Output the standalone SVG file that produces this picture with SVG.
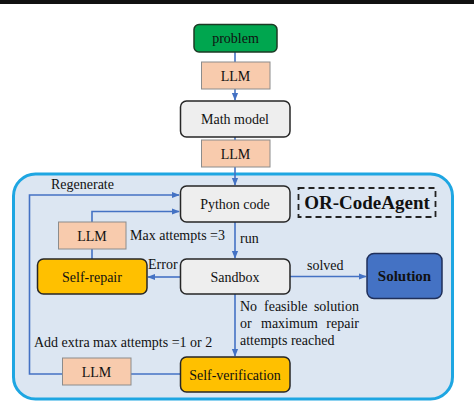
<svg xmlns="http://www.w3.org/2000/svg" width="474" height="401" viewBox="0 0 474 401" font-family="'Liberation Serif', serif">
<defs>
<style>
text{font-size:14px;fill:#111}
.c{text-anchor:middle}
.b{font-weight:bold}
.llm{fill:#f8cbad;stroke:#8c8c8c;stroke-width:1}
.gray{fill:#eeeeee;stroke:#262626;stroke-width:1.5}
.orange{fill:#ffc000;stroke:#262626;stroke-width:1.5}
.ln{fill:none;stroke:#4472c4;stroke-width:1.6}
</style>
<marker id="ar" viewBox="0 0 10 10" refX="9" refY="5" markerWidth="5" markerHeight="5" orient="auto">
<path d="M0,1 L10,5 L0,9 z" fill="#4472c4"/>
</marker>
</defs>
<rect x="0" y="0" width="474" height="401" fill="#ffffff"/>
<rect x="0" y="0" width="474" height="4" fill="#111111"/>
<g id="container">
<rect x="13.5" y="174" width="439" height="225" rx="22" fill="#dce6f2" stroke="#1ea6e2" stroke-width="3"/>
</g>
<g id="connectors">
<line class="ln" x1="235" y1="52" x2="235" y2="62"/>
<line class="ln" x1="235" y1="89" x2="235" y2="100" marker-end="url(#ar)"/>
<line class="ln" x1="235" y1="137" x2="235" y2="140"/>
<line class="ln" x1="235" y1="167" x2="235" y2="185" marker-end="url(#ar)"/>
<line class="ln" x1="235" y1="222" x2="235" y2="258" marker-end="url(#ar)"/>
<line class="ln" x1="235" y1="294" x2="235" y2="356" marker-end="url(#ar)"/>
<line class="ln" x1="290" y1="276.5" x2="366" y2="276.5" marker-end="url(#ar)"/>
<line class="ln" x1="180" y1="277" x2="148" y2="277" marker-end="url(#ar)"/>
<polyline class="ln" points="92,259 92,211.5 179,211.5" marker-end="url(#ar)"/>
<polyline class="ln" points="62,374 29.5,374 29.5,195 179,195" marker-end="url(#ar)"/>
<line class="ln" x1="131" y1="374" x2="180" y2="374"/>
</g>
<g id="problem">
<rect x="194" y="24.5" width="83" height="27.5" rx="5" fill="#00a64f" stroke="#1c3a24" stroke-width="1.5"/>
<text class="c" x="235.5" y="43">problem</text>
</g>
<g id="llm1">
<rect class="llm" x="201.5" y="62" width="68.5" height="27"/>
<text class="c" x="235.5" y="80.5">LLM</text>
</g>
<g id="math-model">
<rect class="gray" x="180.5" y="101" width="109.5" height="36" rx="6"/>
<text class="c" x="235" y="124">Math model</text>
</g>
<g id="llm2">
<rect class="llm" x="201.5" y="140" width="68.5" height="27"/>
<text class="c" x="235.5" y="158.5">LLM</text>
</g>
<g id="python-code">
<rect class="gray" x="180.5" y="186" width="109.5" height="36" rx="6" stroke-width="1"/>
<text class="c" x="235" y="209">Python code</text>
</g>
<g id="or-codeagent">
<rect x="298.5" y="188" width="137" height="29" fill="none" stroke="#222" stroke-width="1.8" stroke-dasharray="6,4"/>
<text class="c b" x="367" y="209" style="font-size:19px">OR-CodeAgent</text>
</g>
<g id="llm3">
<rect class="llm" x="58.5" y="222" width="67.5" height="27"/>
<text class="c" x="92" y="240.5">LLM</text>
</g>
<text x="130" y="240">Max attempts =3</text>
<text x="240" y="243">run</text>
<g id="self-repair">
<rect class="orange" x="37.5" y="259" width="109.5" height="35" rx="6"/>
<text class="c" x="92" y="282">Self-repair</text>
</g>
<text x="148" y="269">Error</text>
<g id="sandbox">
<rect class="gray" x="180.5" y="259" width="109.5" height="35" rx="6"/>
<text class="c" x="235" y="282">Sandbox</text>
</g>
<text x="307" y="270">solved</text>
<g id="solution">
<rect x="367" y="253.5" width="75" height="45" rx="7" fill="#4472c4" stroke="#1f2f5a" stroke-width="1.5"/>
<text class="c b" x="404.5" y="281" style="font-size:15px">Solution</text>
</g>
<text x="240" y="311">No</text>
<text x="264" y="311">feasible</text>
<text x="359" y="311" text-anchor="end">solution</text>
<text x="240" y="328">or</text>
<text x="261" y="328">maximum</text>
<text x="359" y="328" text-anchor="end">repair</text>
<text x="240" y="345">attempts reached</text>
<text x="34" y="347">Add extra max attempts =1 or 2</text>
<text x="51" y="189">Regenerate</text>
<g id="llm4">
<rect class="llm" x="62.5" y="358" width="68.5" height="27"/>
<text class="c" x="96.5" y="376.5">LLM</text>
</g>
<g id="self-verification">
<rect class="orange" x="180.5" y="357" width="109.5" height="35" rx="6"/>
<text class="c" x="235" y="380">Self-verification</text>
</g>
</svg>
